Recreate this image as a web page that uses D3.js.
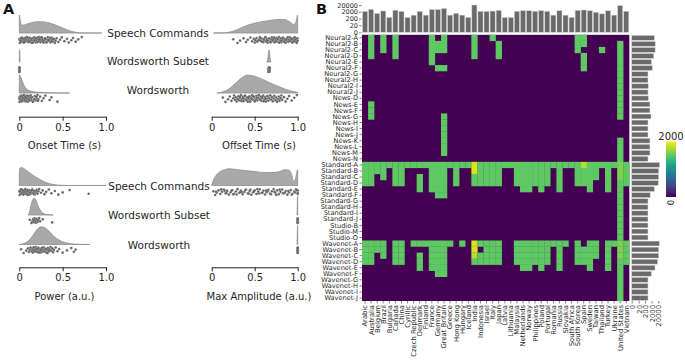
<!DOCTYPE html>
<html><head><meta charset="utf-8">
<script src="https://cdn.jsdelivr.net/npm/d3@7"></script>
<style>body{margin:0;background:#fff}svg{display:block}text{font-family:"DejaVu Sans",sans-serif}</style>
</head><body>
<svg id="c" width="685" height="361"></svg>
<script>
// ---------------- DATA ----------------
const datasets = ["Speech Commands", "Wordsworth Subset", "Wordsworth"];
const axisTicksA = [0, 0.5, 1];

// density profiles [value, relative height] per dataset (SC, WS, WW)
const onsetDensity = [
  [[0,0],[0.0005,1.0],[0.01,0.72],[0.025,0.45],[0.05,0.44],[0.1,0.52],[0.16,0.6],[0.22,0.63],[0.28,0.62],[0.35,0.55],[0.42,0.44],[0.5,0.28],[0.57,0.14],[0.63,0.06],[0.7,0.01],[0.8,0],[0.95,0]],
  [[0,0],[0.001,0.67],[0.005,0.67],[0.008,0]],
  [[0,0],[0.0005,1.0],[0.02,0.85],[0.04,0.58],[0.07,0.3],[0.1,0.16],[0.15,0.08],[0.22,0.04],[0.32,0.015],[0.45,0.003],[0.58,0]]
];
const offsetDensity = [
  [[0.02,0],[0.12,0.005],[0.2,0.04],[0.28,0.15],[0.36,0.32],[0.45,0.48],[0.55,0.6],[0.65,0.68],[0.74,0.74],[0.82,0.76],[0.88,0.7],[0.92,0.58],[0.95,0.46],[0.975,0.55],[0.99,0.85],[0.9995,1.0],[1.0,0]],
  [[0.64,0],[0.655,0.25],[0.662,0.6],[0.667,0.67],[0.672,0.6],[0.678,0.25],[0.69,0]],
  [[0.06,0],[0.12,0.05],[0.2,0.22],[0.28,0.55],[0.35,0.85],[0.42,1.0],[0.5,0.93],[0.58,0.78],[0.66,0.6],[0.75,0.42],[0.85,0.22],[0.93,0.1],[0.9995,0.03],[1.0,0]]
];
const powerDensity = [
  [[0,0],[0.0005,0.9],[0.02,1.0],[0.05,0.95],[0.1,0.78],[0.15,0.6],[0.2,0.44],[0.25,0.3],[0.3,0.18],[0.35,0.1],[0.4,0.05],[0.45,0.02],[0.52,0.005],[0.65,0],[1.0,0]],
  [[0.1,0],[0.115,0.1],[0.13,0.45],[0.15,0.8],[0.17,0.93],[0.19,0.85],[0.21,0.58],[0.24,0.28],[0.27,0.12],[0.3,0.04],[0.35,0.01],[0.39,0]],
  [[0,0],[0.05,0.05],[0.1,0.18],[0.15,0.45],[0.2,0.8],[0.25,0.98],[0.3,0.92],[0.35,0.7],[0.4,0.45],[0.45,0.28],[0.5,0.15],[0.55,0.08],[0.6,0.04],[0.7,0.01],[0.81,0]]
];
const maxAmpDensity = [
  [[0,0],[0.02,0.3],[0.05,0.55],[0.1,0.78],[0.15,0.88],[0.2,0.93],[0.3,0.88],[0.4,0.82],[0.5,0.78],[0.6,0.72],[0.7,0.72],[0.78,0.76],[0.85,0.88],[0.9,0.85],[0.93,0.6],[0.955,0.18],[0.975,0.4],[0.9995,0.87],[1.0,0]],
  [[0.993,0],[0.9995,1.05],[1.0,0]],
  [[0.993,0],[0.9995,1.05],[1.0,0]]
];

// individual observations per dataset (SC, WS, WW)
const onsetPoints = [
  [0,0.005,0.01,0.015,0.02,0.025,0.03,0.04,0.045,0.05,0.06,0.065,0.07,0.08,0.085,0.09,0.1,0.105,0.11,0.12,0.125,0.13,0.14,0.145,0.15,0.16,0.165,0.17,0.18,0.185,0.19,0.2,0.205,0.21,0.22,0.225,0.23,0.24,0.245,0.25,0.26,0.265,0.27,0.28,0.29,0.3,0.31,0.32,0.33,0.34,0.35,0.36,0.37,0.38,0.39,0.4,0.41,0.42,0.43,0.45,0.47,0.49,0.52,0.55,0.57,0.6,0.62,0.65,0.68,0.72,
   0.012,0.035,0.055,0.075,0.095,0.115,0.135,0.155,0.175,0.195,0.215,0.235,0.255,0.275,0.295,0.315,0.335,0.355,0.375,0.395],
  [0,0,0,0,0,0.001,0.001,0.002,0.002,0.003,0.003,0.004],
  [0,0.003,0.006,0.01,0.013,0.016,0.02,0.024,0.028,0.032,0.036,0.04,0.045,0.05,0.055,0.06,0.065,0.07,0.075,0.08,0.085,0.09,0.1,0.105,0.11,0.12,0.125,0.13,0.14,0.15,0.16,0.17,0.18,0.19,0.2,0.21,0.22,0.24,0.26,0.28,0.3,0.35,0.37,0.44,
   0.008,0.018,0.027,0.038,0.048,0.058,0.068,0.078,0.088,0.098,0.115,0.135,0.155,0.175,0.195,0.215]
];
const offsetPoints = [
  [0.25,0.3,0.33,0.37,0.4,0.42,0.45,0.47,0.49,0.5,0.51,0.52,0.53,0.55,0.56,0.57,0.58,0.6,0.61,0.62,0.63,0.64,0.65,0.66,0.67,0.68,0.69,0.7,0.71,0.72,0.73,0.74,0.75,0.76,0.77,0.78,0.79,0.8,0.81,0.82,0.83,0.84,0.85,0.86,0.87,0.88,0.89,0.9,0.91,0.92,0.93,0.94,0.95,0.96,0.97,0.98,0.99,1.0,0.995,0.985,0.975,0.965,0.955,0.945,0.935,
   0.545,0.565,0.585,0.605,0.625,0.645,0.665,0.685,0.705,0.725,0.745,0.765,0.785,0.805,0.825,0.845,0.865,0.885,0.905,0.925],
  [0.655,0.658,0.66,0.662,0.664,0.665,0.666,0.668,0.67,0.672,0.674,0.676],
  [0.13,0.16,0.19,0.21,0.23,0.25,0.26,0.27,0.28,0.29,0.3,0.31,0.32,0.33,0.34,0.35,0.36,0.37,0.38,0.39,0.4,0.41,0.42,0.43,0.44,0.45,0.46,0.47,0.48,0.49,0.5,0.51,0.52,0.53,0.54,0.55,0.56,0.57,0.58,0.59,0.6,0.61,0.62,0.63,0.64,0.65,0.66,0.67,0.68,0.69,0.7,0.71,0.72,0.73,0.74,0.75,0.76,0.77,0.78,0.79,0.8,0.81,0.82,0.84,0.86,0.88,0.9,0.93,0.96,0.99,
   0.305,0.325,0.345,0.365,0.385,0.405,0.425,0.445,0.465,0.485,0.505,0.525,0.545,0.565,0.585,0.605,0.625,0.645]
];
const powerPoints = [
  [0,0.005,0.01,0.015,0.02,0.025,0.03,0.035,0.04,0.045,0.05,0.055,0.06,0.065,0.07,0.075,0.08,0.085,0.09,0.095,0.1,0.105,0.11,0.115,0.12,0.13,0.14,0.15,0.16,0.17,0.18,0.19,0.2,0.21,0.22,0.23,0.25,0.27,0.29,0.31,0.34,0.37,0.41,0.45,0.5,0.58,0.8,
   0.008,0.018,0.028,0.038,0.048,0.058,0.068,0.078,0.088,0.098,0.125,0.145,0.165,0.185],
  [0.12,0.14,0.15,0.16,0.165,0.17,0.175,0.18,0.185,0.19,0.195,0.2,0.21,0.22,0.23,0.24,0.27,0.38],
  [0.02,0.05,0.08,0.1,0.11,0.12,0.13,0.14,0.15,0.155,0.16,0.17,0.175,0.18,0.19,0.195,0.2,0.21,0.215,0.22,0.23,0.235,0.24,0.25,0.255,0.26,0.27,0.28,0.29,0.3,0.31,0.32,0.33,0.34,0.35,0.36,0.37,0.38,0.39,0.4,0.42,0.44,0.46,0.5,0.55,0.6,0.63,0.65,
   0.165,0.185,0.205,0.225,0.245,0.265,0.285,0.305,0.325,0.345]
];
const maxAmpPoints = [
  [0.02,0.04,0.06,0.08,0.1,0.12,0.14,0.16,0.18,0.2,0.22,0.24,0.26,0.28,0.3,0.32,0.34,0.36,0.38,0.4,0.42,0.44,0.46,0.48,0.5,0.52,0.54,0.56,0.58,0.6,0.62,0.64,0.66,0.68,0.7,0.72,0.74,0.76,0.78,0.8,0.82,0.84,0.86,0.88,0.9,0.92,0.94,0.96,0.98,1.0,0.15,0.25,0.35,0.45,0.55,0.65,0.75,0.85,1.0,1.0,
   0.05,0.11,0.17,0.23,0.29,0.33,0.39,0.43,0.49,0.53,0.59,0.63,0.69,0.73,0.79,0.83,0.89,0.93,0.97,0.99],
  [1,1,1,1,1,1,1,1,1,1],
  [1,1,1,1,1,1,1,1,1,1,1,1]
];

// Panel B
const languages = ["Arabic","Australia","Belgium","Brazil","Bulgaria","Canada","China","Cyrillic","Czech Republic","Denmark","Finland","France","Germany","Great Britain","Greece","Hong Kong","Hungary","Iceland","India","Indonesia","Israel","Italy","Japan","Latvia","Lithuania","Malaysia","Netherlands","Norway","Philippines","Poland","Portugal","Romania","Russia","Slovakia","South Africa","South Korea","Spain","Sweden","Taiwan","Thailand","Turkey","Ukraine","United States","Vietnam"];
const voices = ["Neural2-A","Neural2-B","Neural2-C","Neural2-D","Neural2-E","Neural2-F","Neural2-G","Neural2-H","Neural2-I","Neural2-J",
  "News-D","News-E","News-F","News-G","News-H","News-I","News-J","News-K","News-L","News-M","News-N",
  "Standard-A","Standard-B","Standard-C","Standard-D","Standard-E","Standard-F","Standard-G","Standard-H","Standard-I","Standard-J",
  "Studio-B","Studio-M","Studio-O",
  "Wavenet-A","Wavenet-B","Wavenet-C","Wavenet-D","Wavenet-E","Wavenet-F","Wavenet-G","Wavenet-H","Wavenet-I","Wavenet-J"];
const languageTotals = [2300,4600,1200,2700,300,3500,2350,300,650,2400,650,4300,4300,6200,650,1200,650,300,20000,2400,2300,2600,3300,300,300,2400,2900,2900,2400,2900,2400,650,2900,650,300,3300,3700,2900,1750,1000,2900,650,16000,2400];
const voiceTotals = [5000,7000,6800,4100,1800,2500,560,560,620,560,
  620,1100,1100,1600,560,560,560,1100,1100,1100,560,
  32000,23000,23000,20000,5000,1200,560,560,560,560,
  560,560,560,
  28000,23000,23000,16000,6400,1800,560,560,560,560];
const barTicks = [0, 20, 200, 2000, 20000];
const colorTicks = [0, 2000];
// sample counts per voice (row) x language (column); level codes below
const levelValues = {".": 0, "g": 300, "l": 450, "s": 800, "y": 1300};
const heatLevels = [
  ".g.g.g.... .g.g....g. .g........ .....gg... ....",
  ".g.g.g.... .ggg....g. ..g....... .....gg... ..g.",
  ".g.g.g.... .ggg....g. ..g....... .....g...g ..g.",
  ".g...g.... .g......g. ..g....... ......g... ..g.",
  ".......... .g........ .......... ......g... ..g.",
  ".......... ..gg...... .......... ......g... ..g.",
  ".......... .......... .......... .......... ..g.",
  ".......... .......... .......... .......... ..g.",
  ".......... .......... .......... .......... ..g.",
  ".......... .......... .......... .......... ..g.",
  ".......... .......... .......... .......... ..g.",
  ".g........ .......... .......... .......... ..g.",
  ".g........ .......... .......... .......... ..g.",
  ".g........ ...g...... .......... .......... ..g.",
  ".......... ...g...... .......... .......... ....",
  ".......... ...g...... .......... .......... ....",
  ".......... ...g...... .......... .......... ....",
  ".......... ...g...... .......... .......... ..g.",
  ".......... ...g...... .......... .......... ..g.",
  ".......... ...g...... .......... .......... ..g.",
  ".......... .......... .......... .......... ..g.",
  "gggggggggg ggggggggyg gggggggggg ggggggsggg gglg",
  "gggg.gg... .ggg.g..yg ggg..ggggg g.g..gggg. g.lg",
  "gg.g.gg..g .ggg.g..gg ggg..ggggg g.g..gggg. g.lg",
  "gg...gg..g .ggg.g..gg ggg..ggggg g.g..ggg.. g.gg",
  ".........g .ggg...... ......gg.g ..g....g.. g.g.",
  ".......... ..gg...... .......... .......... ..g.",
  ".......... .......... .......... .......... ..g.",
  ".......... .......... .......... .......... ..g.",
  ".......... .......... .......... .......... ..g.",
  ".......... .......... .......... .......... ..g.",
  ".......... .......... .......... .......... ..g.",
  ".......... .......... .......... .......... ..g.",
  ".......... .......... .......... .......... ..g.",
  "gggg.gg.gg ggggg.g.yg ggg..ggggg gggg.g.gg. gglg",
  "gggg.gg... .ggg....y. ggg..ggggg g.g..gggg. g.lg",
  "gg.g.gg..g .ggg....sg ggg..ggggg g.g..gggg. g.lg",
  "gg...gg..g .ggg....gg ggg..ggggg g.g..ggg.. g.gg",
  ".........g .ggg...... ......gg.g ..g....g.. g.g.",
  ".......... ..gg...... .......... .......... ..g.",
  ".......... .......... .......... .......... ..g.",
  ".......... .......... .......... .......... ..g.",
  ".......... .......... .......... .......... ..g.",
  ".......... .......... .......... .......... ..g."
];

// ---------------- DRAW ----------------
const svg = d3.select("#c");
const TXT = "#262626";
const FF = '"DejaVu Sans",sans-serif';

// ===== Panel A =====
svg.append("text").attr("x", 3).attr("y", 13.8).attr("font-size", 14.5).attr("font-weight", "bold").attr("fill", "#111").text("A");

const xL = d3.scaleLinear().domain([0, 1]).range([19.3, 106]);
const xR = d3.scaleLinear().domain([0, 1]).range([211.7, 297.7]);
const topBase = [33, 62, 93], topBand = [[37, 43], [67, 72], [95, 102]], topLabelY = [33.3, 61.7, 90.7];
const botBase = [185.5, 215, 244.5], botBand = [[189, 195], [218, 223], [247, 253]], botLabelY = [186, 215.7, 245];
const metrics = [
  {x: xL, base: topBase, band: topBand, dens: onsetDensity, pts: onsetPoints, axisY: 116.7, title: "Onset Time (s)", tx: 64.5, ty: 148.5},
  {x: xR, base: topBase, band: topBand, dens: offsetDensity, pts: offsetPoints, axisY: 116.7, title: "Offset Time (s)", tx: 259, ty: 148.5},
  {x: xL, base: botBase, band: botBand, dens: powerDensity, pts: powerPoints, axisY: 267.3, title: "Power (a.u.)", tx: 64.5, ty: 300},
  {x: xR, base: botBase, band: botBand, dens: maxAmpDensity, pts: maxAmpPoints, axisY: 267.3, title: "Max Amplitude (a.u.)", tx: 259, ty: 300}
];
const UNIT = 18;
const jit = i => ((i * 0.6180339887 + 0.37) % 1);

metrics.forEach(m => {
  const g = svg.append("g");
  m.dens.forEach((prof, k) => {
    const base = m.base[k];
    const area = d3.area().x(d => m.x(d[0])).y0(base).y1(d => base - d[1] * UNIT).curve(d3.curveMonotoneX);
    g.append("path").attr("d", area(prof)).attr("fill", "#a9a9a9").attr("stroke", "#8e8e8e").attr("stroke-width", 0.8).attr("stroke-linejoin", "round");
  });
  m.pts.forEach((vals, k) => {
    const [b0, b1] = m.band[k];
    g.append("g").selectAll("circle").data(vals).join("circle")
      .attr("cx", d => m.x(d)).attr("cy", (d, i) => b0 + jit(i) * (b1 - b0))
      .attr("r", 1.3).attr("fill", "#5e5e5e").attr("stroke", "#e8e8e8").attr("stroke-width", 0.2);
  });
  const ax = svg.append("g").attr("transform", `translate(0,${m.axisY})`)
    .call(d3.axisBottom(m.x).tickValues(axisTicksA).tickSizeOuter(0).tickSizeInner(4)
      .tickFormat(d => d === 0 ? "0" : d3.format(".1f")(d)));
  ax.select(".domain").attr("stroke", "#222").attr("stroke-width", 1);
  ax.selectAll(".tick line").attr("stroke", "#222").attr("stroke-width", 1);
  ax.selectAll(".tick text").attr("font-size", 10).attr("fill", TXT).attr("font-family", FF);
  svg.append("text").attr("x", m.tx).attr("y", m.ty).attr("text-anchor", "middle").attr("font-size", 10).attr("fill", TXT).text(m.title);
});
datasets.forEach((name, k) => {
  svg.append("text").attr("x", 158).attr("y", topLabelY[k]).attr("dy", "0.35em").attr("text-anchor", "middle").attr("font-size", 10.5).attr("fill", TXT).text(name);
  svg.append("text").attr("x", 159).attr("y", botLabelY[k]).attr("dy", "0.35em").attr("text-anchor", "middle").attr("font-size", 10.5).attr("fill", TXT).text(name);
});

// ===== Panel B =====
svg.append("text").attr("x", 316).attr("y", 14.3).attr("font-size", 14.5).attr("font-weight", "bold").attr("fill", "#111").text("B");

const hx = d3.scaleBand().domain(languages).range([362, 629.3]);
const hy = d3.scaleBand().domain(voices).range([34.8, 301]);
const color = d3.scaleSequentialSymlog(d3.interpolateViridis).domain([0, 2000]);

// heatmap
svg.append("rect").attr("x", 362).attr("y", 34.8).attr("width", 629.3 - 362).attr("height", 301 - 34.8).attr("fill", color(0));
const cells = [];
heatLevels.forEach((row, r) => {
  const s = row.replace(/ /g, "");
  languages.forEach((lang, c) => {
    const v = levelValues[s[c]] || 0;
    if (v > 0) cells.push({voice: voices[r], lang, v});
  });
});
svg.append("g").selectAll("rect").data(cells).join("rect")
  .attr("x", d => hx(d.lang)).attr("y", d => hy(d.voice))
  .attr("width", hx.bandwidth() + 0.2).attr("height", hy.bandwidth() + 0.2)
  .attr("fill", d => color(d.v));

// row labels
const rowAx = svg.append("g").attr("transform", "translate(362,0)")
  .call(d3.axisLeft(hy).tickSize(2.5).tickPadding(1.5));
rowAx.select(".domain").remove();
rowAx.selectAll(".tick line").attr("stroke", "#333").attr("stroke-width", 0.6);
rowAx.selectAll(".tick text").attr("font-size", 6.6).attr("fill", TXT).attr("font-family", FF);

// column labels
const colAx = svg.append("g").attr("transform", "translate(0,301)")
  .call(d3.axisBottom(hx).tickSize(2.5).tickPadding(1.5));
colAx.select(".domain").remove();
colAx.selectAll(".tick line").attr("stroke", "#333").attr("stroke-width", 0.6);
colAx.selectAll(".tick text").attr("font-size", 6.8).attr("fill", TXT).attr("font-family", FF)
  .attr("text-anchor", "end").attr("transform", "rotate(-90)").attr("x", -4).attr("y", 0).attr("dy", "0.35em");

// top bars
const ty = d3.scaleSymlog().constant(2).domain([0, 20000]).range([32.3, 5]);
svg.append("g").selectAll("rect").data(languages).join("rect")
  .attr("x", d => hx(d) + 0.5).attr("width", hx.bandwidth() - 1)
  .attr("y", (d, i) => ty(languageTotals[i])).attr("height", (d, i) => ty(0) - ty(languageTotals[i]))
  .attr("fill", "#6a6a6a").attr("stroke", "#d4d4d4").attr("stroke-width", 0.5);
const tAx = svg.append("g").attr("transform", "translate(361.5,0)")
  .call(d3.axisLeft(ty).tickValues(barTicks).tickFormat(d3.format("d")).tickSize(2.5).tickPadding(1));
tAx.select(".domain").remove();
tAx.selectAll(".tick line").attr("stroke", "#333").attr("stroke-width", 0.6);
tAx.selectAll(".tick text").attr("font-size", 6.5).attr("fill", TXT).attr("font-family", FF);

// right bars
const rx = d3.scaleSymlog().constant(2).domain([0, 20000]).range([631.7, 658.3]);
svg.append("g").selectAll("rect").data(voices).join("rect")
  .attr("y", d => hy(d) + 0.6).attr("height", hy.bandwidth() - 1.2)
  .attr("x", rx(0)).attr("width", (d, i) => rx(voiceTotals[i]) - rx(0))
  .attr("fill", "#6a6a6a").attr("stroke", "#d4d4d4").attr("stroke-width", 0.5);
const rAx = svg.append("g").attr("transform", "translate(0,301)")
  .call(d3.axisBottom(rx).tickValues(barTicks).tickFormat(d3.format("d")).tickSize(2.5).tickPadding(1.5));
rAx.select(".domain").remove();
rAx.selectAll(".tick line").attr("stroke", "#333").attr("stroke-width", 0.6);
rAx.selectAll(".tick text").attr("font-size", 6.8).attr("fill", TXT).attr("font-family", FF)
  .attr("text-anchor", "end").attr("transform", "rotate(-90)").attr("x", -4).attr("y", 0).attr("dy", "0.35em");

// colorbar
const defs = svg.append("defs");
const grad = defs.append("linearGradient").attr("id", "vir").attr("x1", 0).attr("y1", 1).attr("x2", 0).attr("y2", 0);
d3.range(0, 1.0001, 0.05).forEach(t => grad.append("stop").attr("offset", t).attr("stop-color", d3.interpolateViridis(t)));
const cbY = d3.scaleLinear().domain(colorTicks).range([197, 141.5]);
svg.append("rect").attr("x", 666).attr("y", cbY(2000)).attr("width", 10).attr("height", cbY(0) - cbY(2000)).attr("fill", "url(#vir)");
svg.append("text").attr("x", 671).attr("y", cbY(2000) - 2).attr("text-anchor", "middle").attr("font-size", 10).attr("fill", TXT).text(colorTicks[1]);
svg.append("text").attr("transform", `translate(671,${cbY(0) + 5.5}) rotate(-90)`).attr("text-anchor", "middle").attr("dy", "0.35em").attr("font-size", 8.5).attr("fill", TXT).text(colorTicks[0]);
</script>
</body></html>
